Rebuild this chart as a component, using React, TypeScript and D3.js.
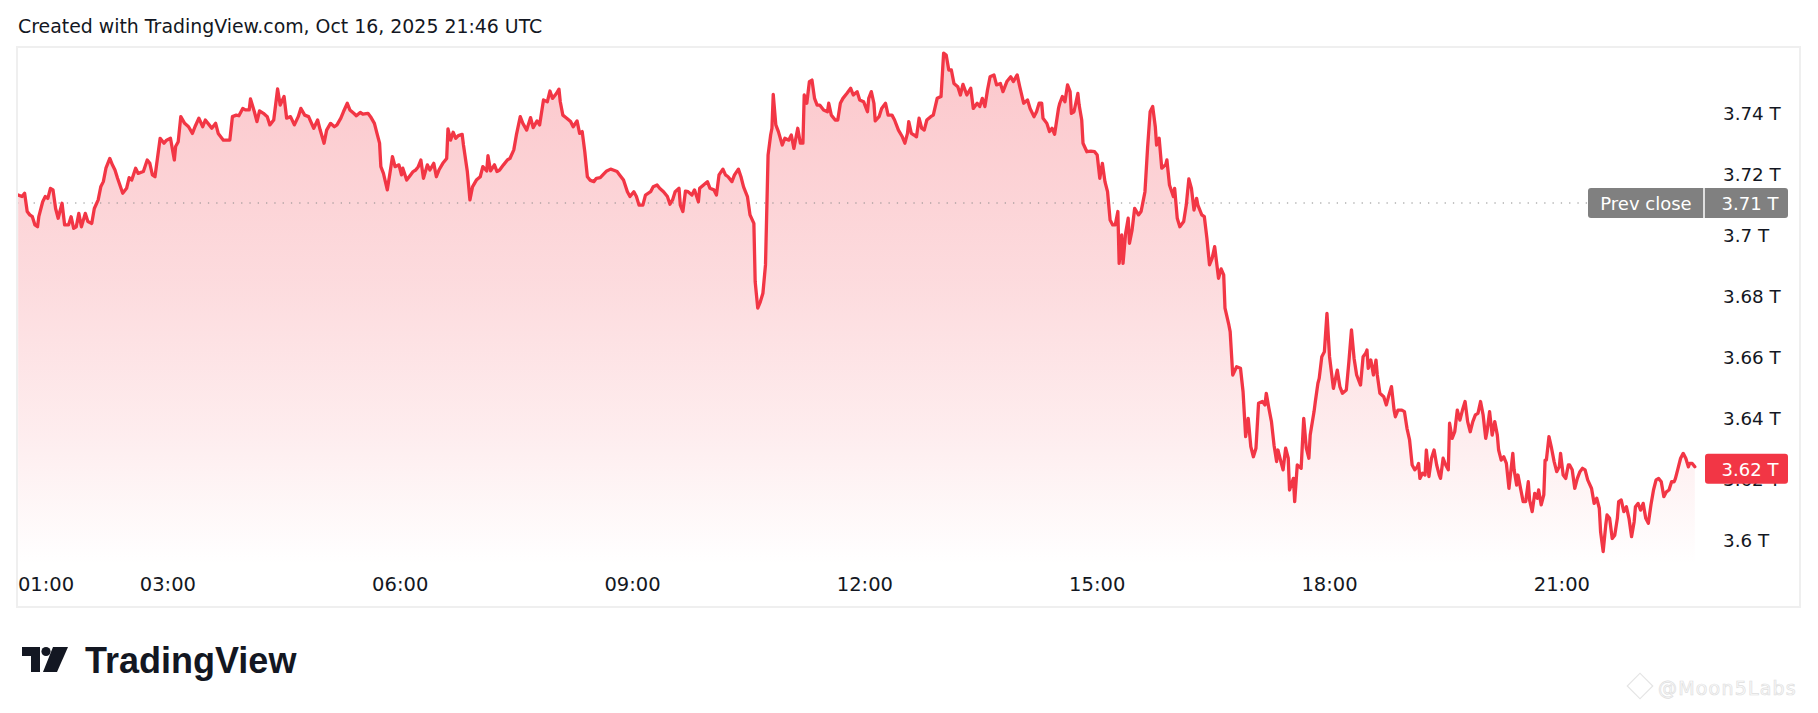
import React from 'react';
import * as d3 from 'd3';

// total crypto market cap, [minute of day, value in T]
const night: [number, number][] = [
  [64, 3.7131], [67, 3.7126], [69, 3.7137], [71, 3.7077], [73, 3.7066], [75, 3.706], [77, 3.7033], [79, 3.7027], [80, 3.706],
  [83, 3.7109], [85, 3.7126], [87, 3.712], [89, 3.7153], [91, 3.7148], [93, 3.7087], [95, 3.7055], [98, 3.7104], [100, 3.7033],
  [103, 3.7033], [105, 3.706], [107, 3.7022], [109, 3.7027], [111, 3.7071], [113, 3.7027], [116, 3.7071], [118, 3.7044],
  [121, 3.7038], [123, 3.7087], [126, 3.7115], [128, 3.7158], [130, 3.7175], [132, 3.7219], [135, 3.7251], [137, 3.723],
  [139, 3.7213], [141, 3.7186], [145, 3.7137], [148, 3.7153], [150, 3.7188], [152, 3.718], [155, 3.7219], [157, 3.7202],
  [161, 3.7208], [164, 3.7246], [166, 3.7235], [168, 3.7197], [170, 3.7191], [174, 3.7317], [177, 3.7301], [179, 3.7311],
  [182, 3.7317], [185, 3.7246], [186, 3.729], [188, 3.7306], [190, 3.7388], [193, 3.7366], [196, 3.7355], [199, 3.7333],
  [201, 3.7355], [204, 3.7383], [207, 3.7355], [209, 3.7377], [212, 3.7361], [214, 3.735], [217, 3.7366], [219, 3.7333],
  [223, 3.7311], [226, 3.7311], [228, 3.7311], [230, 3.7388], [233, 3.7393], [235, 3.7391], [238, 3.7415], [240, 3.741],
  [243, 3.741], [244, 3.7446], [247, 3.7404], [249, 3.7372], [251, 3.7407], [254, 3.7399], [257, 3.7388], [259, 3.7361],
  [262, 3.7377], [265, 3.7479], [267, 3.7426], [270, 3.7454], [272, 3.7383], [275, 3.7388], [278, 3.7361], [281, 3.7388],
  [283, 3.7415], [286, 3.7393], [289, 3.7388], [293, 3.735], [296, 3.7377], [298, 3.7344], [301, 3.7301], [303, 3.7344],
  [306, 3.7366], [309, 3.7355], [311, 3.7361], [314, 3.7383], [316, 3.7404], [319, 3.7432],
];

const morning: [number, number][] = [
  [321, 3.741], [324, 3.7399], [326, 3.7391], [329, 3.7402], [331, 3.7396], [335, 3.7399], [337, 3.7388], [340, 3.7366],
  [342, 3.7333], [344, 3.7301], [345, 3.7224], [347, 3.7202], [350, 3.7148], [352, 3.7202], [354, 3.7257], [356, 3.7224],
  [359, 3.723], [361, 3.7197], [362, 3.7219], [365, 3.718], [368, 3.7197], [370, 3.7208], [372, 3.7213], [374, 3.7224],
  [376, 3.7246], [378, 3.7186], [381, 3.723], [383, 3.7213], [386, 3.7235], [388, 3.7191], [390, 3.7213], [393, 3.7235],
  [396, 3.7251], [397, 3.7348], [399, 3.7311], [401, 3.7337], [403, 3.7317], [405, 3.7326], [408, 3.733], [409, 3.7295],
  [412, 3.7208], [414, 3.7115], [416, 3.7158], [419, 3.718], [422, 3.7191], [424, 3.7224], [427, 3.721], [428, 3.726],
  [430, 3.721], [433, 3.723], [435, 3.7208], [437, 3.7213], [440, 3.723], [443, 3.7246], [445, 3.7251], [448, 3.7279],
  [450, 3.7328], [453, 3.7388], [455, 3.7366], [458, 3.7344], [461, 3.7385], [463, 3.7352], [466, 3.7374], [468, 3.7361],
  [471, 3.7443], [474, 3.7437], [476, 3.7472], [478, 3.7448], [481, 3.7464], [483, 3.7478], [484, 3.7437], [486, 3.7393],
  [489, 3.7383], [492, 3.7372], [494, 3.7355], [497, 3.7374], [499, 3.7333], [501, 3.7339], [503, 3.7273], [505, 3.7191],
  [507, 3.718], [510, 3.7175], [512, 3.7186], [515, 3.7188], [517, 3.7197], [520, 3.721], [523, 3.7216], [525, 3.7213],
  [528, 3.7208], [530, 3.7197], [533, 3.718], [536, 3.7142], [538, 3.7126], [541, 3.7142], [543, 3.7126], [545, 3.7098],
  [548, 3.7098], [550, 3.7131], [554, 3.7142], [556, 3.7158], [559, 3.7164], [561, 3.7153], [564, 3.7142], [567, 3.7126],
  [569, 3.7101], [571, 3.7115], [573, 3.7142], [576, 3.7153], [577, 3.7098], [579, 3.7077], [581, 3.7144],
];

const midday: [number, number][] = [
  [583, 3.7142], [586, 3.7131], [588, 3.7148], [591, 3.7109], [592, 3.7153], [595, 3.7164], [598, 3.7175], [600, 3.7153],
  [603, 3.7148], [605, 3.7131], [607, 3.7197], [610, 3.7216], [612, 3.7197], [614, 3.7191], [617, 3.7175], [619, 3.7197],
  [622, 3.7216], [624, 3.7191], [626, 3.7158], [629, 3.7126], [631, 3.7066], [634, 3.7038], [635, 3.6847], [637, 3.676],
  [639, 3.6781], [641, 3.6809], [643, 3.6902], [645, 3.7262], [647, 3.7328], [648, 3.735], [649, 3.7461], [651, 3.7361],
  [653, 3.7339], [656, 3.7295], [658, 3.7317], [661, 3.7311], [663, 3.7328], [665, 3.7284], [668, 3.735], [670, 3.7301],
  [672, 3.7301], [673, 3.7459], [675, 3.7432], [677, 3.7503], [679, 3.7508], [681, 3.7448], [683, 3.7426], [685, 3.7426],
  [688, 3.741], [691, 3.7404], [692, 3.7432], [694, 3.7393], [697, 3.7377], [699, 3.7377], [701, 3.7432], [703, 3.7448],
  [706, 3.7464], [709, 3.7481], [711, 3.7459], [714, 3.747], [716, 3.7443], [719, 3.7437], [722, 3.7404], [723, 3.7448],
  [725, 3.747], [727, 3.7432], [728, 3.7374], [731, 3.7388], [733, 3.7415], [736, 3.7432], [738, 3.7393], [741, 3.7393],
  [743, 3.7377], [746, 3.7344], [749, 3.7322], [751, 3.7301], [753, 3.7333], [754, 3.7372], [756, 3.7333], [758, 3.7328],
  [760, 3.7322], [762, 3.7383], [764, 3.735], [766, 3.7344], [768, 3.7377], [771, 3.7388], [773, 3.7393], [776, 3.7448],
  [779, 3.7454], [781, 3.7596], [783, 3.759], [785, 3.7541], [787, 3.7541], [789, 3.7497], [792, 3.7486], [794, 3.7459],
  [796, 3.7494], [799, 3.7459], [802, 3.7481], [804, 3.7415], [807, 3.7432], [809, 3.7421], [811, 3.7448], [813, 3.7421],
  [815, 3.7475], [817, 3.7519], [820, 3.7525], [822, 3.7492], [825, 3.7497], [827, 3.747], [830, 3.7503], [833, 3.7519],
  [835, 3.7503], [838, 3.7525], [840, 3.7486], [843, 3.7432], [846, 3.7443], [848, 3.7415],
];

const afternoon: [number, number][] = [
  [851, 3.7388], [853, 3.7404], [855, 3.7432], [857, 3.7432], [858, 3.7383], [861, 3.7366], [863, 3.7339], [865, 3.735],
  [867, 3.733], [870, 3.7415], [871, 3.7432], [873, 3.7454], [875, 3.7437], [877, 3.7492], [879, 3.747], [880, 3.7399],
  [882, 3.7404], [885, 3.7464], [886, 3.7426], [888, 3.7377], [889, 3.7301], [892, 3.7273], [895, 3.7275], [898, 3.7273],
  [900, 3.7262], [902, 3.7186], [904, 3.7235], [906, 3.7175], [908, 3.7142], [910, 3.7049], [912, 3.7033], [914, 3.7033],
  [916, 3.7077], [917, 3.6907], [919, 3.7], [920, 3.6907], [922, 3.7005], [924, 3.7055], [925, 3.6973], [927, 3.7016],
  [929, 3.7087], [932, 3.7066], [934, 3.7077], [936, 3.712], [937, 3.7142], [939, 3.7284], [941, 3.7404], [943, 3.7421],
  [945, 3.7355], [946, 3.7295], [948, 3.7317], [950, 3.7219], [953, 3.723], [954, 3.7246], [956, 3.7164], [959, 3.7126],
  [960, 3.7153], [962, 3.7055], [964, 3.7027], [967, 3.7044], [969, 3.7098], [971, 3.7184], [973, 3.7153], [975, 3.7082],
  [977, 3.712], [978, 3.7098], [981, 3.7066], [983, 3.706], [985, 3.6989], [987, 3.6902], [989, 3.6923], [991, 3.6962],
  [994, 3.6858], [996, 3.6889], [998, 3.6869], [999, 3.676], [1002, 3.6705], [1003, 3.6683], [1005, 3.6541], [1008, 3.6568],
  [1011, 3.6563], [1013, 3.6486], [1015, 3.6339], [1017, 3.6399], [1019, 3.6306], [1021, 3.6273], [1023, 3.6301],
  [1025, 3.6448], [1028, 3.6454], [1030, 3.6443], [1031, 3.6481], [1033, 3.6432], [1035, 3.6388], [1037, 3.6311],
  [1039, 3.6257], [1040, 3.6295], [1042, 3.6262], [1044, 3.623], [1046, 3.6301], [1048, 3.6268], [1049, 3.6164],
  [1052, 3.6202], [1053, 3.6126], [1055, 3.6246], [1058, 3.6235], [1060, 3.6399], [1062, 3.6301], [1064, 3.6268],
  [1065, 3.6344], [1068, 3.6421], [1069, 3.6454], [1071, 3.6514], [1072, 3.653], [1074, 3.6601], [1076, 3.6617],
  [1078, 3.6743], [1080, 3.6601], [1083, 3.6497], [1086, 3.6557], [1088, 3.6503], [1090, 3.6481], [1093, 3.6492],
  [1095, 3.6585], [1097, 3.6689], [1099, 3.6596], [1101, 3.6541], [1104, 3.6508], [1106, 3.6601], [1108, 3.6612],
];

const evening: [number, number][] = [
  [1109, 3.6623], [1110, 3.6563], [1112, 3.659], [1114, 3.6541], [1116, 3.659], [1117, 3.6541], [1119, 3.6481],
  [1122, 3.647], [1124, 3.6443], [1126, 3.6475], [1128, 3.6503], [1130, 3.6426], [1131, 3.6404], [1133, 3.6426],
  [1136, 3.6426], [1138, 3.6421], [1140, 3.6366], [1142, 3.6328], [1144, 3.6246], [1146, 3.623], [1148, 3.624],
  [1149, 3.6251], [1150, 3.6202], [1152, 3.6219], [1154, 3.6213], [1155, 3.6295], [1157, 3.6208], [1159, 3.6268],
  [1161, 3.6295], [1163, 3.6246], [1165, 3.6213], [1166, 3.6202], [1168, 3.6268], [1170, 3.6246], [1172, 3.623],
  [1173, 3.6383], [1175, 3.6333], [1177, 3.6355], [1179, 3.6426], [1181, 3.6393], [1183, 3.6426], [1185, 3.6454],
  [1187, 3.6388], [1189, 3.6355], [1191, 3.6388], [1193, 3.641], [1195, 3.6415], [1197, 3.6454], [1199, 3.641],
  [1201, 3.6333], [1202, 3.6355], [1204, 3.6421], [1206, 3.6344], [1208, 3.6388], [1210, 3.6344], [1211, 3.6295],
  [1213, 3.6262], [1215, 3.6273], [1217, 3.6251], [1219, 3.6169], [1220, 3.6208], [1222, 3.6284], [1223, 3.623],
  [1225, 3.618], [1226, 3.6213], [1228, 3.6169], [1230, 3.6126], [1232, 3.6126], [1234, 3.6191], [1235, 3.6131],
  [1237, 3.6093], [1239, 3.6153], [1241, 3.6137], [1242, 3.6164], [1244, 3.6115], [1246, 3.6148], [1247, 3.6262],
  [1248, 3.6262], [1250, 3.6339], [1252, 3.6301], [1254, 3.6257], [1256, 3.6224], [1258, 3.624], [1259, 3.6284],
  [1261, 3.6213], [1263, 3.6202], [1265, 3.6246], [1266, 3.6246], [1268, 3.623], [1270, 3.6169], [1272, 3.6202],
  [1274, 3.6224], [1276, 3.6235], [1278, 3.623], [1280, 3.6197], [1283, 3.6169], [1285, 3.612], [1287, 3.6137],
  [1289, 3.6104], [1290, 3.6027], [1292, 3.5962], [1294, 3.6049], [1295, 3.6082], [1297, 3.6071], [1299, 3.6005],
  [1301, 3.6016], [1303, 3.6071], [1304, 3.6126], [1306, 3.6131], [1308, 3.6093], [1310, 3.6109], [1312, 3.6071],
  [1314, 3.6011], [1316, 3.606], [1317, 3.6109], [1319, 3.612], [1321, 3.6098], [1323, 3.612], [1325, 3.6071],
  [1327, 3.6055], [1329, 3.6115], [1331, 3.6164], [1333, 3.6197], [1335, 3.6202], [1337, 3.6191], [1339, 3.6142],
  [1341, 3.6158], [1343, 3.6164], [1345, 3.6191], [1347, 3.6191], [1348, 3.6202], [1350, 3.6235], [1352, 3.6268],
  [1354, 3.6284], [1356, 3.6268], [1358, 3.624], [1359, 3.6251], [1361, 3.6251], [1363, 3.624],
];

const priceTicks = [3.6, 3.62, 3.64, 3.66, 3.68, 3.7, 3.72, 3.74];
const priceLabels = ['3.6 T', '3.62 T', '3.64 T', '3.66 T', '3.68 T', '3.7 T', '3.72 T', '3.74 T'];
const hourTicks = [1, 3, 6, 9, 12, 15, 18, 21];
const hourLabels = ['01:00', '03:00', '06:00', '09:00', '12:00', '15:00', '18:00', '21:00'];
const prevClose = 3.7105;
const lastLabel = '3.62 T';
const prevLabel = '3.71 T';

const FONT = "'DejaVu Sans', sans-serif";
const RED = '#f23645';

export default function App() {
  const width = 1818;
  const height = 713;
  const frame = { left: 17, top: 47, right: 1800, bottom: 607 };
  const plotBottom = 565;

  const data = [...night, ...morning, ...midday, ...afternoon, ...evening];

  const x = d3.scaleLinear().domain([60, 1440]).range([13, 1794.2]);
  const y = d3.scaleLinear().domain([3.6, 3.74]).range([540, 113]);

  const line = d3.line<[number, number]>()
    .x(d => x(d[0]))
    .y(d => y(d[1]));

  const area = d3.area<[number, number]>()
    .x(d => x(d[0]))
    .y0(plotBottom)
    .y1(d => y(d[1]));

  const last = data[data.length - 1];
  const lastY = y(last[1]) + 2;
  const prevY = y(prevClose);

  return (
    <svg width={width} height={height} style={{ position: 'absolute', left: 0, top: 0, background: '#fff' }}>
      <defs>
        <linearGradient id="fillGrad" gradientUnits="userSpaceOnUse" x1={0} y1={frame.top} x2={0} y2={plotBottom}>
          <stop offset="0" stopColor={RED} stopOpacity={0.28} />
          <stop offset="0.45" stopColor={RED} stopOpacity={0.18} />
          <stop offset="0.75" stopColor={RED} stopOpacity={0.09} />
          <stop offset="1" stopColor={RED} stopOpacity={0.0} />
        </linearGradient>
        <clipPath id="plotClip">
          <rect x={frame.left + 1} y={frame.top + 1} width={1700 - frame.left} height={plotBottom - frame.top} />
        </clipPath>
      </defs>

      <text x={18} y={33} fontFamily={FONT} fontSize={18.9} fill="#131722">
        Created with TradingView.com, Oct 16, 2025 21:46 UTC
      </text>

      <rect x={frame.left} y={frame.top} width={frame.right - frame.left} height={frame.bottom - frame.top}
        fill="none" stroke="#efefef" strokeWidth={2} />

      <g clipPath="url(#plotClip)">
        <path d={area(data) ?? ''} fill="url(#fillGrad)" />
        <line x1={frame.left} x2={1588} y1={prevY} y2={prevY} stroke="#8a8a8a" strokeWidth={1.2}
          strokeDasharray="1.3 7" />
        <path d={line(data) ?? ''} fill="none" stroke={RED} strokeWidth={3.3} strokeLinejoin="round" strokeLinecap="round" />
      </g>

      {priceTicks.map((v, i) => (
        <text key={v} x={1723} y={y(v) + 7} fontFamily={FONT} fontSize={18.3} fill="#131722">
          {priceLabels[i]}
        </text>
      ))}

      {hourTicks.map((h, i) => {
        const cx = Math.max(x(h * 60), frame.left + 29);
        return (
          <text key={h} x={cx} y={591} textAnchor="middle" fontFamily={FONT} fontSize={19.5} fill="#131722">
            {hourLabels[i]}
          </text>
        );
      })}

      {/* prev close tag */}
      <rect x={1588} y={prevY - 15} width={200} height={30} rx={3} fill="#808080" />
      <line x1={1704} x2={1704} y1={prevY - 15} y2={prevY + 15} stroke="#fff" strokeWidth={1.5} />
      <text x={1646} y={prevY + 7} textAnchor="middle" fontFamily={FONT} fontSize={18} fill="#fff">Prev close</text>
      <text x={1750} y={prevY + 7} textAnchor="middle" fontFamily={FONT} fontSize={18} fill="#fff">{prevLabel}</text>

      {/* last value tag */}
      <rect x={1705} y={lastY - 15} width={83} height={30} rx={3} fill={RED} />
      <text x={1750} y={lastY + 7} textAnchor="middle" fontFamily={FONT} fontSize={18} fill="#fff">{lastLabel}</text>

      {/* TradingView logo */}
      <g fill="#131722">
        <path d="M22,647 H40 V672 H31 V656 H22 Z" />
        <circle cx={46} cy={651.5} r={4.6} />
        <path d="M53,647 H68 L57,672 H43 Z" />
        <text x={85} y={673} fontFamily="'Liberation Sans', Arial, sans-serif" fontWeight={700} fontSize={36}>
          TradingView
        </text>
      </g>

      {/* watermark */}
      <g opacity={0.9}>
        <rect x={1631} y={677} width={18} height={18} transform="rotate(45 1640 686)" fill="none" stroke="#e2e2e2"
          strokeWidth={1.2} />
        <text x={1658} y={695} fontFamily={FONT} fontSize={19} letterSpacing={1.2} fill="#fbfbfb" stroke="#dcdcdc"
          strokeWidth={0.7}>
          @Moon5Labs
        </text>
      </g>
    </svg>
  );
}
